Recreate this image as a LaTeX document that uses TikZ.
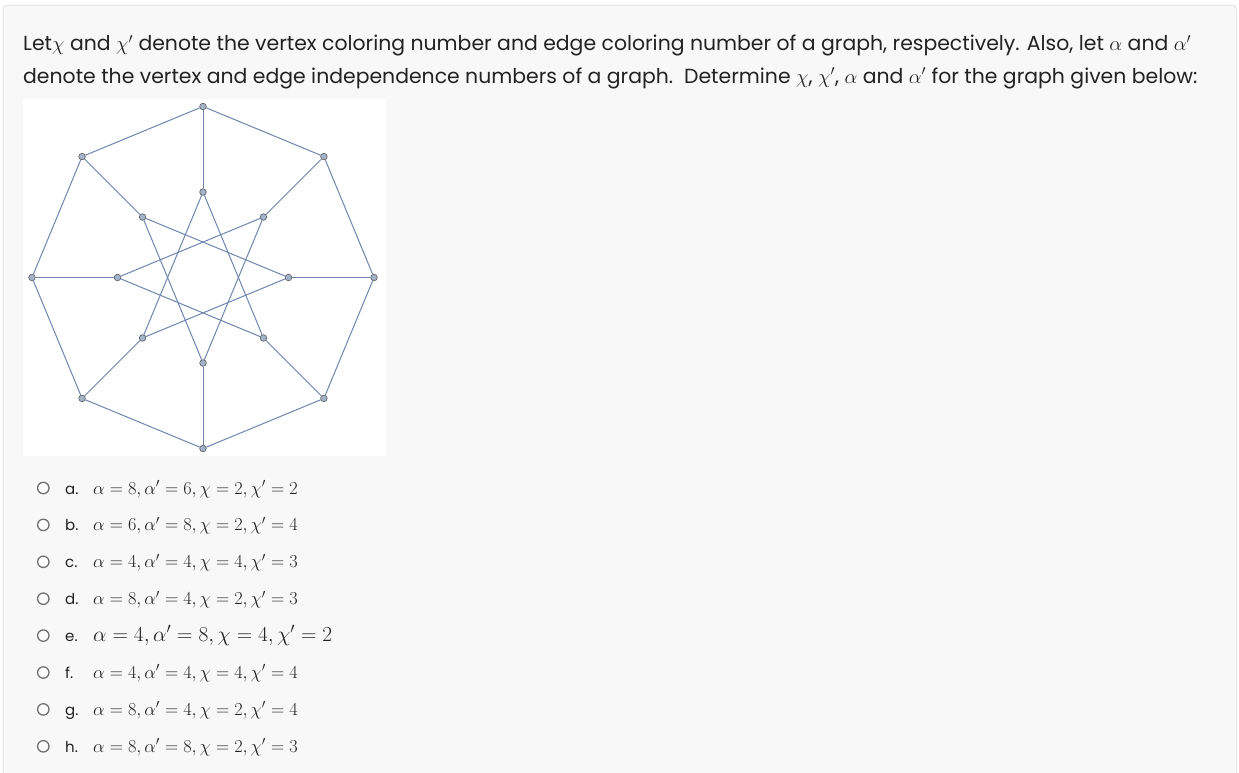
\documentclass[tikz,border=0pt]{standalone}
\usepackage{fix-cm}
\usepackage{fontspec}
\setmainfont{Poppins}
\usetikzlibrary{calc,backgrounds}
\definecolor{cardbg}{HTML}{F8F8F8}
\definecolor{cardline}{HTML}{E4E4E4}
\definecolor{edgec}{HTML}{6E86B0}
\definecolor{nodefill}{HTML}{A3B3CC}
\definecolor{nodeline}{HTML}{5A5A5A}
\definecolor{radioc}{HTML}{707070}
\definecolor{txt}{HTML}{222222}
\tikzset{
  vtx/.style={circle,draw=nodeline,fill=nodefill,line width=0.6pt,inner sep=0pt,minimum size=6.6pt},
  gedge/.style={draw=edgec,line width=1pt},
  radio/.style={circle,draw=radioc,line width=1.3pt,fill=white,inner sep=0pt,minimum size=11.4pt},
  optlabel/.style={anchor=base west,inner sep=0pt,font=\fontsize{15}{18}\selectfont,text=txt},
  optmath/.style={anchor=base west,inner sep=0pt,font=\fontsize{18.3}{21}\selectfont,text=txt},
  qline/.style={anchor=base west,inner sep=0pt,font=\fontsize{20.4}{24}\selectfont,text=txt}
}
\begin{document}
\begin{tikzpicture}[x=1pt,y=-1pt]
\begin{scope}[on background layer]
\useasboundingbox (0,0) rectangle (1239,773);
\fill[white] (0,0) rectangle (1239,773);
\draw[cardline,fill=cardbg,line width=1pt,rounded corners=4pt] (3,5.5) rectangle (1236.5,790);
\fill[white] (23.3,99) rectangle (386,456);
\end{scope}
% question text
\node[qline] (q1) at (23,51) {Let$\chi$ and $\chi'$ denote the vertex coloring number and edge coloring number of a graph, respectively. Also, let $\alpha$ and $\alpha'$};
\node[qline] (q2) at (23,83.3) {denote the vertex and edge independence numbers of a graph.\ \ Determine $\chi$, $\chi'$, $\alpha$ and $\alpha'$ for the graph given below:};
% graph
\coordinate (c) at (203,277.5);
\foreach \i in {0,...,7}{
  \pgfmathsetmacro{\ang}{90-45*\i}
  \node[vtx] (o\i) at ($(c)+(\ang:171)$) {};
  \node[vtx] (n\i) at ($(c)+(\ang:85.5)$) {};
}
\begin{scope}[on background layer]
\foreach \i in {0,...,7}{
  \pgfmathtruncatemacro{\j}{mod(\i+1,8)}
  \pgfmathtruncatemacro{\k}{mod(\i+3,8)}
  \draw[gedge] (o\i) -- (o\j);
  \draw[gedge] (o\i) -- (n\i);
  \draw[gedge] (n\i) -- (n\k);
}
\end{scope}
% options
\foreach \l/\m [count=\r from 0] in {
  a./{$\alpha=8,\alpha'=6,\chi=2,\chi'=2$},
  b./{$\alpha=6,\alpha'=8,\chi=2,\chi'=4$},
  c./{$\alpha=4,\alpha'=4,\chi=4,\chi'=3$},
  d./{$\alpha=8,\alpha'=4,\chi=2,\chi'=3$},
  e./{$\alpha=4,\alpha'=8,\chi=4,\chi'=2$},
  f./{$\alpha=4,\alpha'=4,\chi=4,\chi'=4$},
  g./{$\alpha=8,\alpha'=4,\chi=2,\chi'=4$},
  h./{$\alpha=8,\alpha'=8,\chi=2,\chi'=3$}}{
  \pgfmathsetmacro{\yy}{494+36.9*\r}
  \node[radio] (r\r) at (43.3,\yy-6) {};
  \node[optlabel] (l\r) at (65,\yy) {\l};
  \ifnum\r=4
    \node[optmath,font=\fontsize{21.4}{25}\selectfont] (m\r) at (93,\yy) {\m};
  \else
    \node[optmath] (m\r) at (93,\yy) {\m};
  \fi
}
\end{tikzpicture}
\end{document}
